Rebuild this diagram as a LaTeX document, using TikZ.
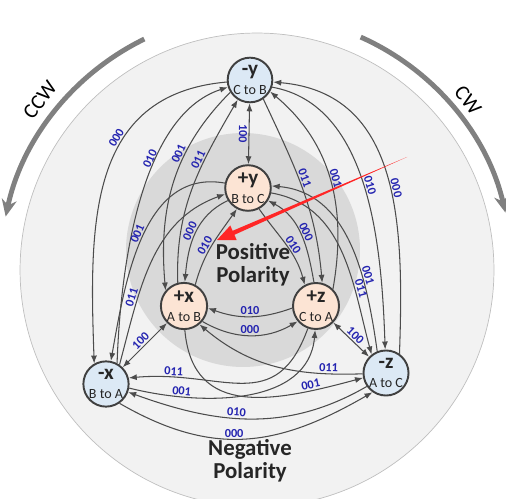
\documentclass[tikz,border=0pt]{standalone}
\usepackage{fontspec}
\setmainfont{Carlito}
\usetikzlibrary{arrows.meta}

\definecolor{negfill}{RGB}{220,233,245}
\definecolor{posfill}{RGB}{252,228,212}
\definecolor{codeblue}{RGB}{36,36,176}
\definecolor{ringgray}{RGB}{242,242,242}
\definecolor{coregray}{RGB}{217,217,217}

\begin{document}
\begin{tikzpicture}[
  x=0.02cm, y=0.02cm,
  state/.style    = {circle, draw=black!75, line width=1.1pt, minimum size=0.86cm,
                     inner sep=0pt, align=center, text=black!85},
  negstate/.style = {state, fill=negfill},
  posstate/.style = {state, fill=posfill},
  tr/.style       = {-{Latex[length=1.6mm,width=1.2mm]}, line width=0.6pt, draw=black!70},
  dbl/.style      = {{Latex[length=1.6mm,width=1.2mm]}-{Latex[length=1.6mm,width=1.2mm]},
                     line width=0.6pt, draw=black!70},
  code/.style     = {sloped, above, inner sep=0.8pt, text=codeblue,
                     font=\bfseries\fontsize{7}{7}\selectfont},
  polar/.style    = {align=center, text=black!85, font=\bfseries\fontsize{13}{13}\selectfont},
  turn/.style     = {line width=2.8pt, draw=black!50, -{Stealth[length=3.4mm,width=3mm]}},
]
\useasboundingbox (0,0) rectangle (506,-499);

%% ── Background discs ──────────────────────────────────────────────
\fill[ringgray, draw=black!25, line width=0.4pt] (257,-270) circle[radius=4.74cm];
\fill[coregray] (243,-250) circle[radius=2.34cm];

%% ── Rotation sense ────────────────────────────────────────────────
\draw[turn] ([shift={(116:5.14cm)}]257,-270) arc[start angle=116, end angle=168, radius=5.14cm];
\draw[turn] ([shift={(66:5.1cm)}]257,-270) arc[start angle=66, end angle=13, radius=5.1cm];
\node[rotate=52, font=\fontsize{12}{12}\selectfont]  (ccw) at (40,-100)  {CCW};
\node[rotate=-52, font=\fontsize{12}{12}\selectfont] (cw)  at (468,-100) {CW};

%% ── States ────────────────────────────────────────────────────────
\node[negstate] (mY) at (250,-80)  {{\fontsize{12}{11}\selectfont\bfseries -y}\\[-1pt]{\fontsize{8}{8}\selectfont C to B}};
\node[posstate] (pY) at (248,-188) {{\fontsize{12}{11}\selectfont\bfseries +y}\\[-1pt]{\fontsize{8}{8}\selectfont B to C}};
\node[posstate] (pX) at (184,-306) {{\fontsize{12}{11}\selectfont\bfseries +x}\\[-1pt]{\fontsize{8}{8}\selectfont A to B}};
\node[posstate] (pZ) at (316,-306) {{\fontsize{12}{11}\selectfont\bfseries +z}\\[-1pt]{\fontsize{8}{8}\selectfont C to A}};
\node[negstate] (mX) at (106,-384) {{\fontsize{12}{11}\selectfont\bfseries -x}\\[-1pt]{\fontsize{8}{8}\selectfont B to A}};
\node[negstate] (mZ) at (386,-373) {{\fontsize{12}{11}\selectfont\bfseries -z}\\[-1pt]{\fontsize{8}{8}\selectfont A to C}};

\node[polar] (posp) at (253,-265) {Positive\\Polarity};
\node[polar] (negp) at (250,-461) {Negative\\Polarity};

%% ── Polarity flips ────────────────────────────────────────────────
\draw[dbl] (mY) -- node[code, allow upside down, below]{100} (pY);
\draw[dbl] (mX) -- node[code]{100} (pX);
\draw[dbl] (pZ) -- node[code]{100} (mZ);

%% ── Left flank ────────────────────────────────────────────────────
\draw[tr] (mY.185) to[out=185,in=92,looseness=1.15] node[code,pos=0.38]{000} (mX.120);
\draw[tr] (mX.62)  to[out=88,in=198,looseness=0.8] node[code,pos=0.63]{010} (mY.198);
\draw[tr] (mY.212) to[out=225,in=95]  node[code,pos=0.36]{001}  (pX.140);
\draw[tr] (pX.105) to[out=92,in=240]  node[code,pos=0.65]{011} (mY.238);
\draw[tr] (pY.168) to[out=170,in=80]  node[code,pos=0.5]{001}  (mX.78);
\draw[tr] (mX.55)  to[out=75,in=200]  node[code,pos=0.3]{011}  (pY.195);

%% ── Right flank ───────────────────────────────────────────────────
\draw[tr] (mZ.55)  to[out=88,in=-5,looseness=1.1] node[code,pos=0.45]{000} (mY.-5);
\draw[tr] (mY.-18) to[out=-10,in=92,looseness=0.9] node[code,pos=0.5]{010} (mZ.92);
\draw[tr] (pZ.45)  to[out=80,in=-40]  node[code,pos=0.5]{001} (mY.-30);
\draw[tr] (mY.-55) to[out=-65,in=95]  node[code,pos=0.45]{011} (pZ.75);
\draw[tr] (mZ.112) to[out=98,in=-5]   node[code,pos=0.33]{001} (pY.5);
\draw[tr] (pY.-12) to[out=-10,in=105] node[code,pos=0.7]{011}  (mZ.128);

%% ── Positive triangle ─────────────────────────────────────────────
\draw[tr] (pY.212) to[out=205,in=85]  node[code,pos=0.5]{000}  (pX.88);
\draw[tr] (pX.62)  to[out=75,in=235]  node[code,pos=0.45]{010} (pY.242);
\draw[tr] (pZ.95)  to[out=100,in=-28] node[code,pos=0.5]{000}  (pY.-32);
\draw[tr] (pY.-62) to[out=-55,in=105] node[code,pos=0.55]{010} (pZ.118);
\draw[tr] (pZ.185) to[out=200,in=-20] node[code]{010} (pX.-5);
\draw[tr] (pX.-40) to[out=-30,in=210] node[code]{000} (pZ.220);

%% ── Bottom ────────────────────────────────────────────────────────
\draw[tr] (mZ.215) to[out=210,in=-20] node[code,pos=0.56]{010} (mX.-20);
\draw[tr] (mX.-55) to[out=-30,in=210,looseness=1.1] node[code,pos=0.45]{000} (mZ.235);
\draw[tr] (pZ.250) to[out=250,in=5,looseness=1.3] node[code,pos=0.83]{011} (mX.15);
\draw[tr] (mX.-10) to[out=-14,in=265] node[code,pos=0.22]{001} (pZ.268);
\draw[tr] (pX.272) to[out=275,in=195,looseness=1.25] node[code,pos=0.8]{001} (mZ.192);
\draw[tr] (mZ.182) to[out=182,in=-40] node[code,pos=0.18]{011}  (pX.-50);

%% ── Pointer ───────────────────────────────────────────────────────
\fill[red!85!white] (407,-157) -- (234.4,-234.8) -- (236.7,-240.1) -- (217,-240)
  -- (230.3,-225.5) -- (232.6,-230.8) -- cycle;

\end{tikzpicture}
\end{document}
